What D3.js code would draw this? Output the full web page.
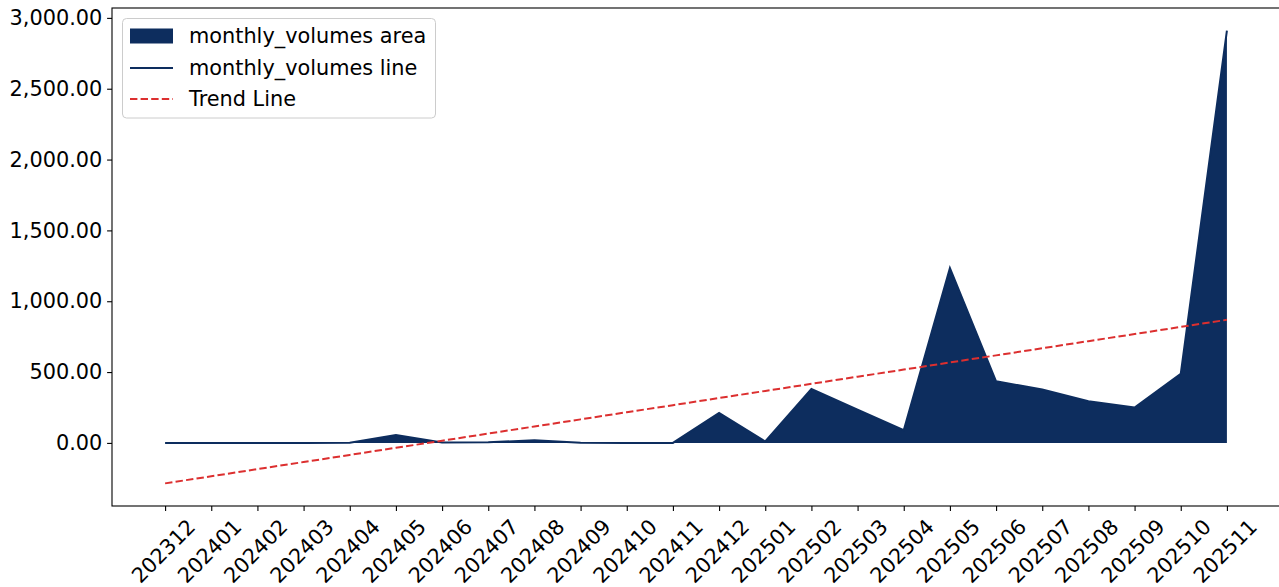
<!DOCTYPE html>
<html><head><meta charset="utf-8">
<script src="https://cdn.jsdelivr.net/npm/d3@7"></script>
<style>
html,body{margin:0;padding:0;background:#fff;}
svg{display:block;font-family:"DejaVu Sans",sans-serif;}
</style></head>
<body><svg id="chart" width="1279" height="587"></svg>
<script>
const months = ["202312","202401","202402","202403","202404","202405","202406","202407","202408","202409","202410","202411","202412","202501","202502","202503","202504","202505","202506","202507","202508","202509","202510","202511"];
const volumes = [0,0,0,0,2,55,3,5,18,2,0,0,212,10,380,235,90,1235,435,377,294,250,487,2910];
const yTicks = [0,500,1000,1500,2000,2500,3000];
const legendLabels = ["monthly_volumes area","monthly_volumes line","Trend Line"];

const navy = "#0d2d5e", red = "#dc2f2f";
const L = 112, R = 1280, T = 8, B = 506;
const fs = 20.83;

// linear trend (least squares)
const n = volumes.length;
const xs = d3.range(n);
const mx = d3.mean(xs), my = d3.mean(volumes);
const slope = d3.sum(xs, (x,i)=>(x-mx)*(volumes[i]-my)) / d3.sum(xs, x=>(x-mx)*(x-mx));
const icpt = my - slope*mx;
const trend = xs.map(x => icpt + slope*x);

const svg = d3.select("#chart");
const x = d3.scaleLinear().domain([-0.05*(n-1), (n-1)*1.05]).range([L, R]);
const lo = Math.min(d3.min(volumes), d3.min(trend)), hi = Math.max(d3.max(volumes), d3.max(trend));
const pad = (hi-lo)*0.05;
const y = d3.scaleLinear().domain([lo-pad, hi+pad]).range([B, T]);

const area = d3.area().x((d,i)=>x(i)).y0(y(0)).y1(d=>y(d));
svg.append("path").datum(volumes).attr("d", area).attr("fill", navy);
const line = d3.line().x((d,i)=>x(i)).y(d=>y(d));
svg.append("path").datum(volumes).attr("d", line).attr("fill","none").attr("stroke", navy).attr("stroke-width", 2);
svg.append("path").datum(trend).attr("d", line).attr("fill","none").attr("stroke", red).attr("stroke-width", 2).attr("stroke-dasharray","7.4,3.2");

// frame
svg.append("rect").attr("x",L).attr("y",T).attr("width",R-L).attr("height",B-T).attr("fill","none").attr("stroke","#000").attr("stroke-width",1.1);

// y axis
const yAx = svg.append("g").attr("transform",`translate(${L},0)`)
  .call(d3.axisLeft(y).tickValues(yTicks).tickFormat(d3.format(",.2f")).tickSize(4.9).tickPadding(4.8));
yAx.select(".domain").remove();
yAx.selectAll("line").attr("stroke","#000").attr("stroke-width",1.1);
yAx.selectAll("text").attr("font-size",fs).attr("fill","#000").attr("font-family","DejaVu Sans");

// x axis
const xAx = svg.append("g").attr("transform",`translate(0,${B})`)
  .call(d3.axisBottom(x).tickValues(xs).tickFormat(i=>months[i]).tickSize(4.9));
xAx.select(".domain").remove();
xAx.selectAll("line").attr("stroke","#000").attr("stroke-width",1.1);
xAx.selectAll("text").each(function(){
  const t = d3.select(this);
  t.attr("font-size",fs).attr("fill","#000").attr("font-family","DejaVu Sans").attr("text-anchor","middle").attr("dy",null);
  const w = this.getComputedTextLength();
  const h = fs*1.0;
  const bh = (w+h)/Math.SQRT2;
  const cy = 4.9 + 4.9 + bh/2;
  t.attr("y", cy).attr("x",-2).attr("dominant-baseline","central")
   .attr("transform",`rotate(-45,-2,${cy})`);
});

// legend
const lg = svg.append("g");
lg.append("rect").attr("x",122.5).attr("y",18.5).attr("width",313).attr("height",99.5).attr("rx",4)
  .attr("fill","#fff").attr("fill-opacity",0.8).attr("stroke","#cccccc").attr("stroke-width",1);
const rowY = [36, 68, 99];
lg.append("rect").attr("x",130).attr("y",rowY[0]-7.5).attr("width",43).attr("height",15).attr("fill",navy);
lg.append("line").attr("x1",130).attr("x2",173).attr("y1",rowY[1]).attr("y2",rowY[1]).attr("stroke",navy).attr("stroke-width",2);
lg.append("line").attr("x1",130).attr("x2",173).attr("y1",rowY[2]).attr("y2",rowY[2]).attr("stroke",red).attr("stroke-width",2).attr("stroke-dasharray","7.4,3.2");
legendLabels.forEach((s,i)=>{
  lg.append("text").attr("x",189).attr("y",rowY[i]).attr("dominant-baseline","central").attr("font-size",fs).attr("fill","#000").text(s);
});
</script></body></html>
